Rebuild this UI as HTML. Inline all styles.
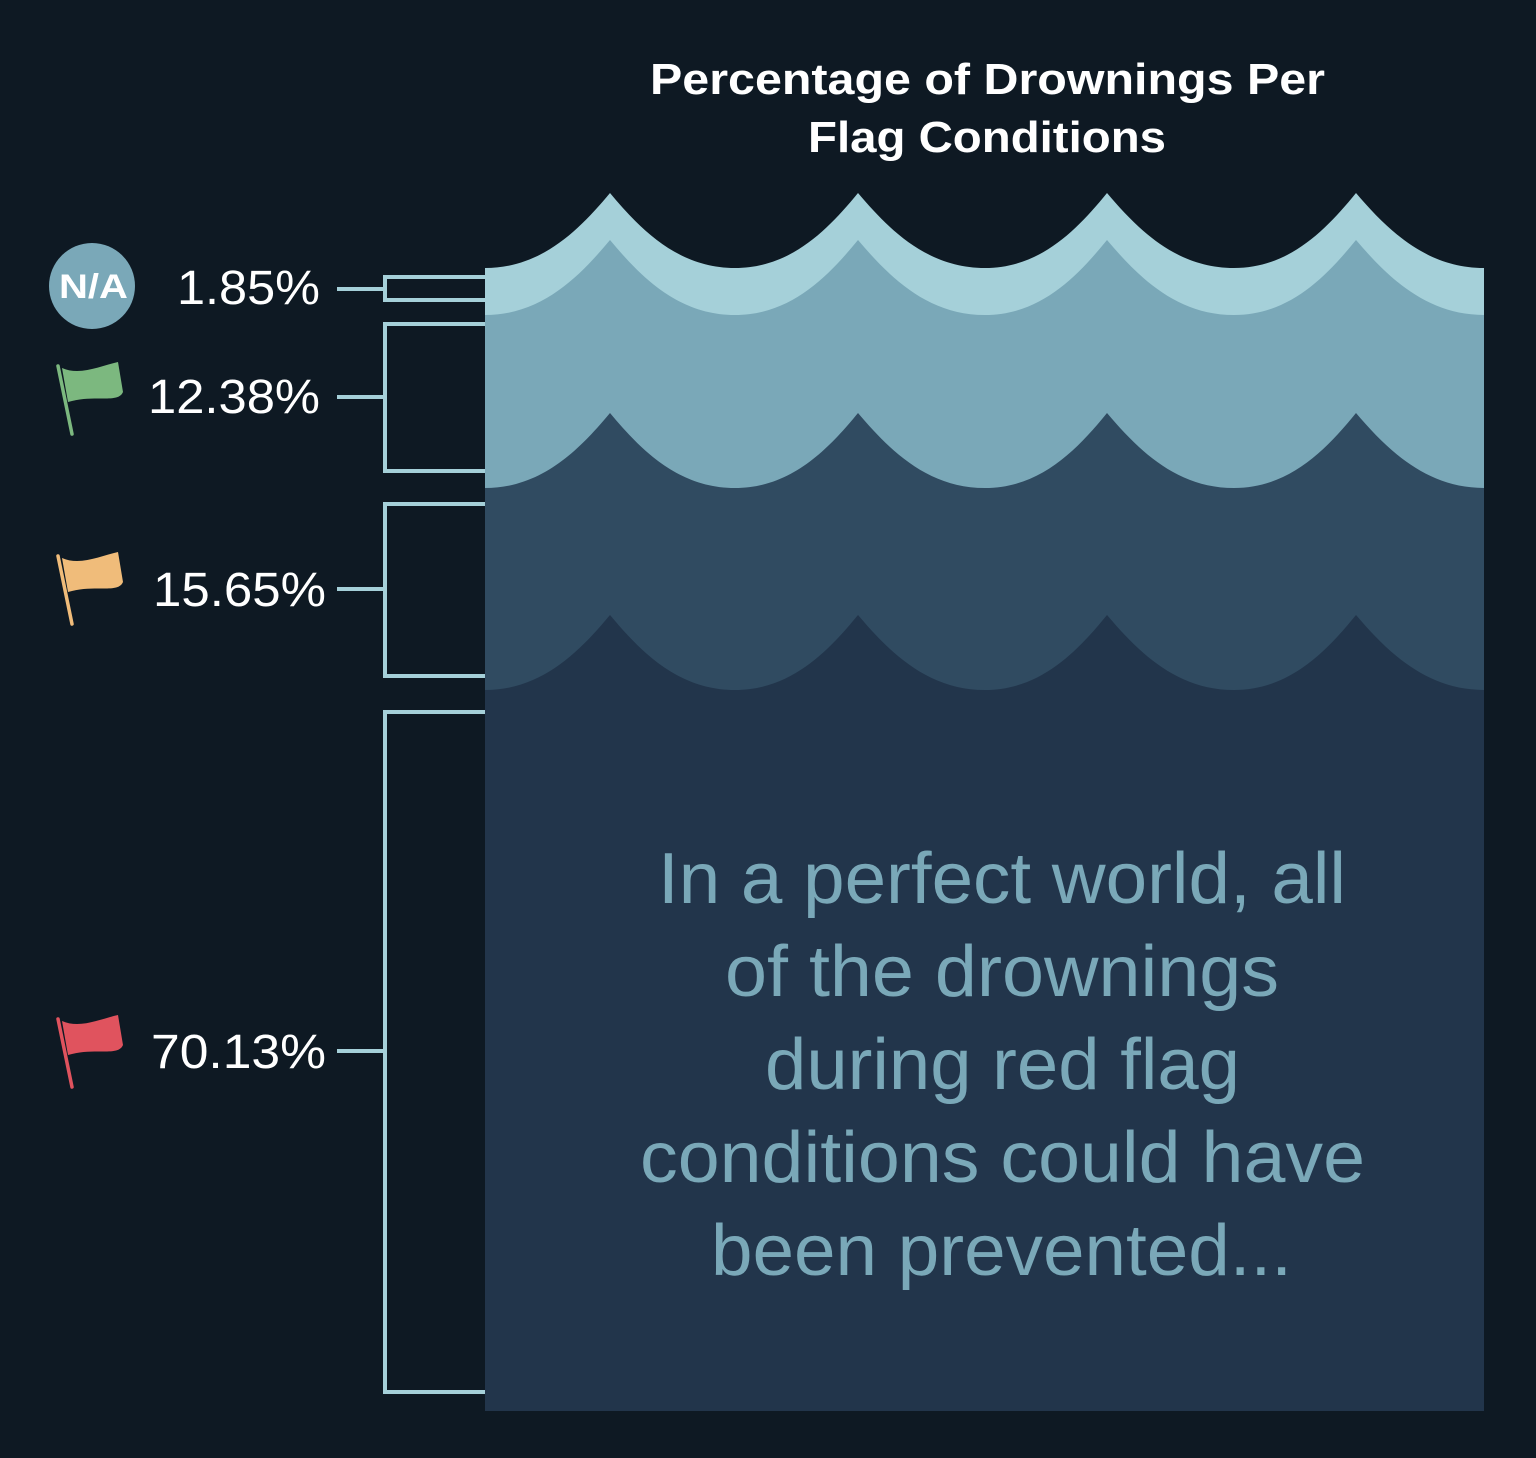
<!DOCTYPE html>
<html><head><meta charset="utf-8"><style>
html,body{margin:0;padding:0;background:#0e1923;}
svg{display:block}
</style></head><body>
<svg id="s" width="1536" height="1458" viewBox="0 0 1536 1458" xmlns="http://www.w3.org/2000/svg">
<rect width="1536" height="1458" fill="#0e1923"/>
<g id="waves"></g>
<g fill="none" stroke="#a5d0d9" stroke-width="4">
<path d="M485,277 H385 V300 H485 M337,289 H385"/>
<path d="M485,324 H385 V471 H485 M337,397 H385"/>
<path d="M485,504 H385 V676 H485 M337,589 H385"/>
<path d="M485,712 H385 V1392 H485 M337,1051 H385"/>
</g>
<circle cx="92" cy="286" r="43" fill="#7aa8b8"/>
<text x="59" y="298" textLength="69" lengthAdjust="spacingAndGlyphs" font-family="Liberation Sans, sans-serif" font-weight="bold" font-size="34" fill="#fff">N/A</text>
<g font-family="Liberation Sans, sans-serif" font-size="48" fill="#fff" lengthAdjust="spacingAndGlyphs">
<text x="177" y="304" textLength="143" lengthAdjust="spacingAndGlyphs">1.85%</text>
<text x="148" y="413" textLength="172" lengthAdjust="spacingAndGlyphs">12.38%</text>
<text x="153" y="606" textLength="173" lengthAdjust="spacingAndGlyphs">15.65%</text>
<text x="151" y="1068" textLength="175" lengthAdjust="spacingAndGlyphs">70.13%</text>
</g>
<g id="flags"></g>
<g font-family="Liberation Sans, sans-serif" font-weight="bold" font-size="44" fill="#fff">
<text x="650" y="94" textLength="675" lengthAdjust="spacingAndGlyphs">Percentage of Drownings Per</text>
<text x="808" y="152" textLength="358" lengthAdjust="spacingAndGlyphs">Flag Conditions</text>
</g>
<g font-family="Liberation Sans, sans-serif" font-size="72" fill="#7aa8b8">
<text x="658" y="903" textLength="688" lengthAdjust="spacingAndGlyphs">In a perfect world, all</text>
<text x="725" y="996" textLength="554" lengthAdjust="spacingAndGlyphs">of the drownings</text>
<text x="765" y="1089" textLength="475" lengthAdjust="spacingAndGlyphs">during red flag</text>
<text x="640" y="1182" textLength="725" lengthAdjust="spacingAndGlyphs">conditions could have</text>
<text x="711" y="1275" textLength="581" lengthAdjust="spacingAndGlyphs">been prevented...</text>
</g>
</svg>
<script>
var NS="http://www.w3.org/2000/svg";
function wave(T,col){
  var A=75;
  var d="M485,1411 L485,"+T;
  var pts=[485,610,735,858,985,1107,1234,1356,1484];
  for(var i=1;i<pts.length;i++){
    var x0=pts[i-1],x1=pts[i],w=x1-x0;
    if(i%2==1){
      d+=" C"+(x0+w*0.45)+","+T+" "+(x1-w*0.25)+","+(T-A*0.5)+" "+x1+","+(T-A);
    } else {
      d+=" C"+(x0+w*0.25)+","+(T-A*0.5)+" "+(x1-w*0.45)+","+T+" "+x1+","+T;
    }
  }
  d+=" L1484,1411 Z";
  var p=document.createElementNS(NS,"path");p.setAttribute("d",d);p.setAttribute("fill",col);
  document.getElementById("waves").appendChild(p);
}
wave(268,"#a5d0d9");wave(315,"#7aa8b8");wave(488,"#304b61");wave(690,"#22354b");
function flag(y,col){
  var g=document.getElementById("flags");
  var pole=document.createElementNS(NS,"path");
  pole.setAttribute("d","M58,"+(y+4)+" L72,"+(y+72));
  pole.setAttribute("stroke",col);pole.setAttribute("stroke-width","3.5");pole.setAttribute("stroke-linecap","round");
  g.appendChild(pole);
  var f=document.createElementNS(NS,"path");
  f.setAttribute("d","M62,"+(y+6)+" C80,"+(y+14)+" 100,"+(y+4)+" 118,"+y+" L123,"+(y+30)+" C118,"+(y+42)+" 95,"+(y+32)+" 68,"+(y+40)+" Z");
  f.setAttribute("fill",col);g.appendChild(f);
}
flag(362,"#7cb87f");flag(552,"#f0bc7a");flag(1015,"#e0535e");
</script>
</body></html>
